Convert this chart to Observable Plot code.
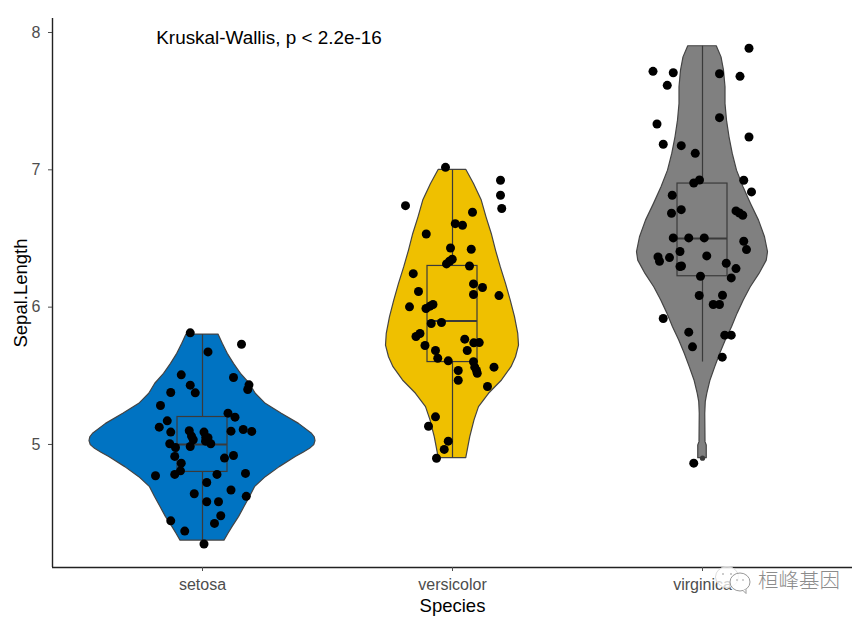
<!DOCTYPE html>
<html>
<head>
<meta charset="utf-8">
<script src="https://cdn.jsdelivr.net/npm/d3@7"></script>
<script src="https://cdn.jsdelivr.net/npm/@observablehq/plot@0.6"></script>
<style>
html,body{margin:0;padding:0;background:#fff;}
#wrap{position:relative;width:868px;height:617px;overflow:hidden;}
#mark{position:absolute;left:714px;top:562px;width:140px;height:36px;}
#mark span{position:absolute;left:44px;top:3px;font:300 20.5px/28px "Noto Sans CJK SC";color:#8c8c8c;white-space:nowrap;}
#mark svg{position:absolute;left:0;top:0;}
</style>
</head>
<body>
<div id="wrap"><div id="chart"></div>
<div id="mark">
<svg width="44" height="36"><ellipse cx="13" cy="15" rx="11.5" ry="10.5" fill="#fff" fill-opacity="0.75" stroke="#ddd"/><circle cx="9" cy="12" r="1" fill="#bbb"/><circle cx="17" cy="12" r="1" fill="#bbb"/><ellipse cx="26" cy="20" rx="10" ry="9" fill="#fff" fill-opacity="0.75" stroke="#999"/><circle cx="23" cy="18" r="0.8" fill="#999"/><circle cx="29" cy="18" r="0.8" fill="#999"/><path d="M29 28.5l3 3l0-4" fill="#fff" stroke="#999"/></svg>
<span>桓峰基因</span>
</div></div>
<script>
const species = ["setosa", "versicolor", "virginica"];
const fills = ["#0073C2", "#EFC000", "#808080"];
const yTicks = [5, 6, 7, 8];
const note = "Kruskal-Wallis, p < 2.2e-16";

const setosaOffset = [-0.049,0.156,0.022,-0.085,0.124,0.186,0.181,-0.049,-0.127,-0.029,-0.168,0.102,0.130,-0.141,-0.173,-0.127,-0.053,0.006,0.114,0.163,0.197,-0.044,-0.037,0.022,0.012,0.033,-0.131,-0.108,-0.049,-0.111,0.124,0.088,-0.085,-0.088,-0.111,-0.188,0.058,0.172,0.017,0.114,-0.033,0.175,0.017,0.064,-0.127,0.073,0.048,-0.071,0.006,0.013];
const setosaValue = [5.813,5.730,5.674,5.507,5.488,5.434,5.400,5.432,5.378,5.376,5.284,5.228,5.199,5.172,5.126,5.090,5.100,5.090,5.097,5.109,5.095,5.061,5.034,5.049,5.024,5.005,5.005,4.978,4.985,4.913,4.920,4.901,4.864,4.808,4.782,4.772,4.782,4.789,4.723,4.668,4.641,4.622,4.583,4.583,4.444,4.481,4.425,4.369,4.275,5.053];

const versicolorOffset = [-0.028,0.192,0.192,0.197,-0.188,0.080,0.011,0.040,-0.105,-0.008,0.075,-0.001,-0.012,-0.024,0.068,-0.157,0.084,0.120,-0.136,0.084,0.186,-0.078,-0.090,-0.106,-0.172,-0.085,-0.044,-0.130,-0.146,0.049,0.085,0.107,-0.110,0.059,-0.068,-0.059,-0.017,0.084,0.089,0.166,0.023,0.099,0.023,0.140,-0.068,-0.096,-0.017,-0.033,-0.064,0.096];
const versicolorValue = [7.018,6.924,6.815,6.718,6.739,6.691,6.608,6.596,6.533,6.431,6.422,6.349,6.334,6.315,6.300,6.244,6.169,6.143,6.114,6.092,6.084,6.019,6.007,5.990,6.002,5.881,5.888,5.808,5.786,5.767,5.740,5.742,5.721,5.684,5.684,5.628,5.609,5.602,5.563,5.563,5.539,5.519,5.468,5.422,5.201,5.133,5.024,4.964,4.900,5.539];

const virginicaOffset = [0.186,-0.198,-0.117,0.068,0.150,-0.141,0.068,-0.182,0.186,-0.157,-0.085,-0.029,0.165,-0.012,-0.035,0.196,-0.121,-0.085,0.134,0.148,0.161,-0.124,-0.117,-0.055,0.007,0.165,0.176,-0.090,-0.178,-0.172,-0.132,0.017,-0.090,-0.084,0.095,0.134,-0.008,0.115,-0.013,0.080,0.043,0.068,-0.157,-0.055,0.089,0.115,-0.040,0.079,-0.035];
const virginicaValue = [7.885,7.717,7.707,7.700,7.681,7.615,7.380,7.334,7.239,7.186,7.176,7.120,6.924,6.926,6.904,6.839,6.815,6.710,6.701,6.686,6.669,6.684,6.504,6.504,6.504,6.480,6.419,6.405,6.366,6.334,6.361,6.373,6.296,6.300,6.320,6.281,6.225,6.213,6.085,6.087,6.019,6.019,5.917,5.818,5.796,5.796,5.711,5.636,4.864];

const setosaViolinY = [5.8,5.733,5.660,5.587,5.514,5.442,5.369,5.296,5.223,5.150,5.078,5.051,5.024,4.995,4.968,4.940,4.908,4.835,4.762,4.689,4.617,4.544,4.471,4.398,4.350,4.3];
const setosaViolinW = [0.064,0.081,0.101,0.126,0.154,0.189,0.213,0.253,0.317,0.386,0.438,0.449,0.452,0.447,0.430,0.404,0.373,0.309,0.253,0.210,0.190,0.168,0.146,0.120,0.104,0.088];
const versicolorViolinY = [7.0,6.897,6.776,6.654,6.533,6.412,6.291,6.169,6.048,5.927,5.805,5.720,5.635,5.563,5.466,5.369,5.272,5.175,5.053,4.9];
const versicolorViolinW = [0.055,0.086,0.117,0.136,0.157,0.174,0.193,0.214,0.233,0.250,0.263,0.266,0.254,0.236,0.198,0.146,0.106,0.088,0.071,0.055];
const virginicaViolinY = [7.9,7.819,7.722,7.601,7.479,7.358,7.237,7.116,6.994,6.873,6.752,6.630,6.509,6.400,6.339,6.242,6.145,6.048,5.951,5.854,5.757,5.660,5.563,5.466,5.369,5.308,5.223,5.017,4.993,4.9];
const virginicaViolinW = [0.057,0.076,0.086,0.092,0.092,0.098,0.108,0.121,0.138,0.164,0.194,0.226,0.250,0.262,0.257,0.228,0.193,0.165,0.140,0.118,0.093,0.071,0.051,0.032,0.019,0.013,0.011,0.012,0.017,0.017];

const q1 = [4.8, 5.6, 6.225];
const median = [5.0, 5.9, 6.5];
const q3 = [5.2, 6.3, 6.9];
const whiskerLow = [4.3, 4.9, 5.6];
const whiskerHigh = [5.8, 7.0, 7.9];
const outlier = [{i: 2, y: 4.9}];

const boxHalf = 0.1;
const positions = [0, 1, 2];
const violinY = [setosaViolinY, versicolorViolinY, virginicaViolinY];
const violinW = [setosaViolinW, versicolorViolinW, virginicaViolinW];
const offsets = [setosaOffset, versicolorOffset, virginicaOffset];
const values = [setosaValue, versicolorValue, virginicaValue];
const ink = "#3a3a3a";

const violinMarks = positions.map(i => Plot.areaX(
  violinY[i].map((y, j) => ({y, w: violinW[i][j]})),
  {y: "y", x1: d => i + 1 - d.w, x2: d => i + 1 + d.w, fill: fills[i], stroke: "#444", strokeWidth: 1.2, strokeLinejoin: "round"}
));
const points = positions.flatMap(i => offsets[i].map((o, j) => ({x: i + 1 + o, y: values[i][j]})));

const chart = Plot.plot({
  width: 868, height: 617,
  marginLeft: 52, marginRight: 16, marginTop: 18, marginBottom: 50,
  style: {fontFamily: "'Liberation Sans', Arial, sans-serif", background: "#fff"},
  x: {type: "linear", domain: [0.4, 3.6], axis: null},
  y: {domain: [4.104, 8.102], axis: null},
  marks: [
    ...violinMarks,
    Plot.ruleX(positions, {x: i => i + 1, y1: i => whiskerLow[i], y2: i => q1[i], stroke: ink, strokeWidth: 1.2}),
    Plot.ruleX(positions, {x: i => i + 1, y1: i => q3[i], y2: i => whiskerHigh[i], stroke: ink, strokeWidth: 1.2}),
    Plot.rect(positions, {x1: i => i + 1 - boxHalf, x2: i => i + 1 + boxHalf, y1: i => q1[i], y2: i => q3[i], fill: "none", stroke: ink, strokeWidth: 1.2}),
    Plot.ruleY(positions, {y: i => median[i], x1: i => i + 1 - boxHalf, x2: i => i + 1 + boxHalf, stroke: ink, strokeWidth: 2}),
    Plot.dot(outlier, {x: d => d.i + 1, y: "y", r: 2.6, fill: ink, stroke: "none"}),
    Plot.dot(points, {x: "x", y: "y", r: 4.5, fill: "#000", stroke: "none"}),
    Plot.ruleX([0.4], {stroke: "#222", strokeWidth: 1.4}),
    Plot.ruleY([4.104], {stroke: "#222", strokeWidth: 1.4}),
    Plot.axisX({ticks: positions.map(i => i + 1), tickFormat: d => species[d - 1], tickSize: 4, tickPadding: 7, fontSize: 16, color: "#4d4d4d", label: null, anchor: "bottom"}),
    Plot.axisY({ticks: yTicks, tickFormat: "d", tickSize: 4, tickPadding: 8, fontSize: 16, color: "#4d4d4d", label: null, anchor: "left"}),
    Plot.text(["Species"], {frameAnchor: "bottom", dy: 44, lineAnchor: "bottom", fontSize: 18.5, fill: "#000"}),
    Plot.text(["Sepal.Length"], {frameAnchor: "left", textAnchor: "middle", dx: -31, rotate: -90, fontSize: 18.5, fill: "#000"}),
    Plot.text([note], {x: 0.815, y: 7.96, textAnchor: "start", fontSize: 18.9, fill: "#000"})
  ]
});
document.getElementById("chart").appendChild(chart);
</script>
</body>
</html>
